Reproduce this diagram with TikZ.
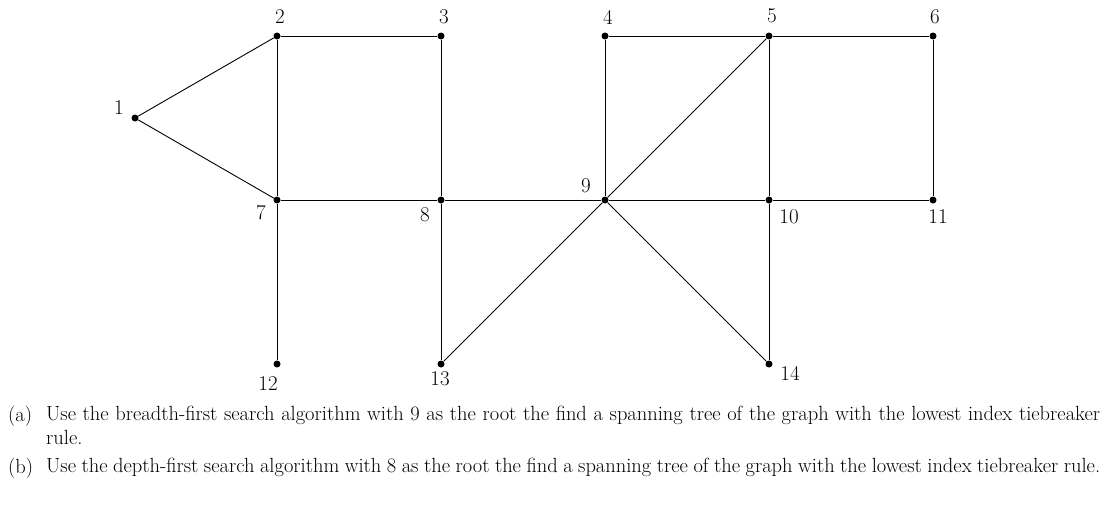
\RequirePackage{fix-cm}
\documentclass[tikz,border=0pt]{standalone}
\begin{document}
\begin{tikzpicture}[x=1pt,y=-1pt,
  vtx/.style={circle,fill=black,inner sep=0pt,minimum size=7pt},
  lbl/.style={font=\fontsize{21}{24}\selectfont,inner sep=0pt},
  txt/.style={font=\fontsize{20.5}{23.5}\selectfont,inner sep=0pt,anchor=north west,text width=1054pt,align=justify},
  edge/.style={line width=0.9pt}]
\useasboundingbox (0,0) rectangle (1105,512);
\node[vtx] (n1) at (135,118) {};
\node[vtx] (n2) at (277,36) {};
\node[vtx] (n3) at (441,36) {};
\node[vtx] (n4) at (605,36) {};
\node[vtx] (n5) at (769,36) {};
\node[vtx] (n6) at (933,36) {};
\node[vtx] (n7) at (277,200) {};
\node[vtx] (n8) at (441,200) {};
\node[vtx] (n9) at (605,200) {};
\node[vtx] (n10) at (769,200) {};
\node[vtx] (n11) at (933,200) {};
\node[vtx] (n12) at (277,364) {};
\node[vtx] (n13) at (441,364) {};
\node[vtx] (n14) at (769,364) {};
\foreach \a/\b in {1/2,1/7,2/3,2/7,3/8,7/8,8/9,9/10,10/11,4/5,5/6,4/9,5/9,5/10,6/11,7/12,8/13,9/13,9/14,10/14}
  \draw[edge] (n\a) -- (n\b);
\node[lbl] (l1) at (119,108) {1};
\node[lbl] (l2) at (280,17) {2};
\node[lbl] (l3) at (444,17) {3};
\node[lbl] (l4) at (608,17) {4};
\node[lbl] (l5) at (772,16) {5};
\node[lbl] (l6) at (935,17) {6};
\node[lbl] (l7) at (261,213) {7};
\node[lbl] (l8) at (425,215) {8};
\node[lbl] (l9) at (586,186) {9};
\node[lbl] (l10) at (789,217) {10};
\node[lbl] (l11) at (938,217) {11};
\node[lbl] (l12) at (268,384) {12};
\node[lbl] (l13) at (440,379) {13};
\node[lbl] (l14) at (790,373) {14};
\node[txt] (ta) at (8,406) {(a)};
\node[txt] (a) at (46,406) {Use the breadth-first search algorithm with 9 as the root the find a spanning tree of the graph with the lowest index tiebreaker rule.};
\node[txt] (tb) at (8,458) {(b)};
\node[txt] (b) at (46,458) {Use the depth-first search algorithm with 8 as the root the find a spanning tree of the graph with the lowest index tiebreaker rule.};
\end{tikzpicture}
\end{document}
